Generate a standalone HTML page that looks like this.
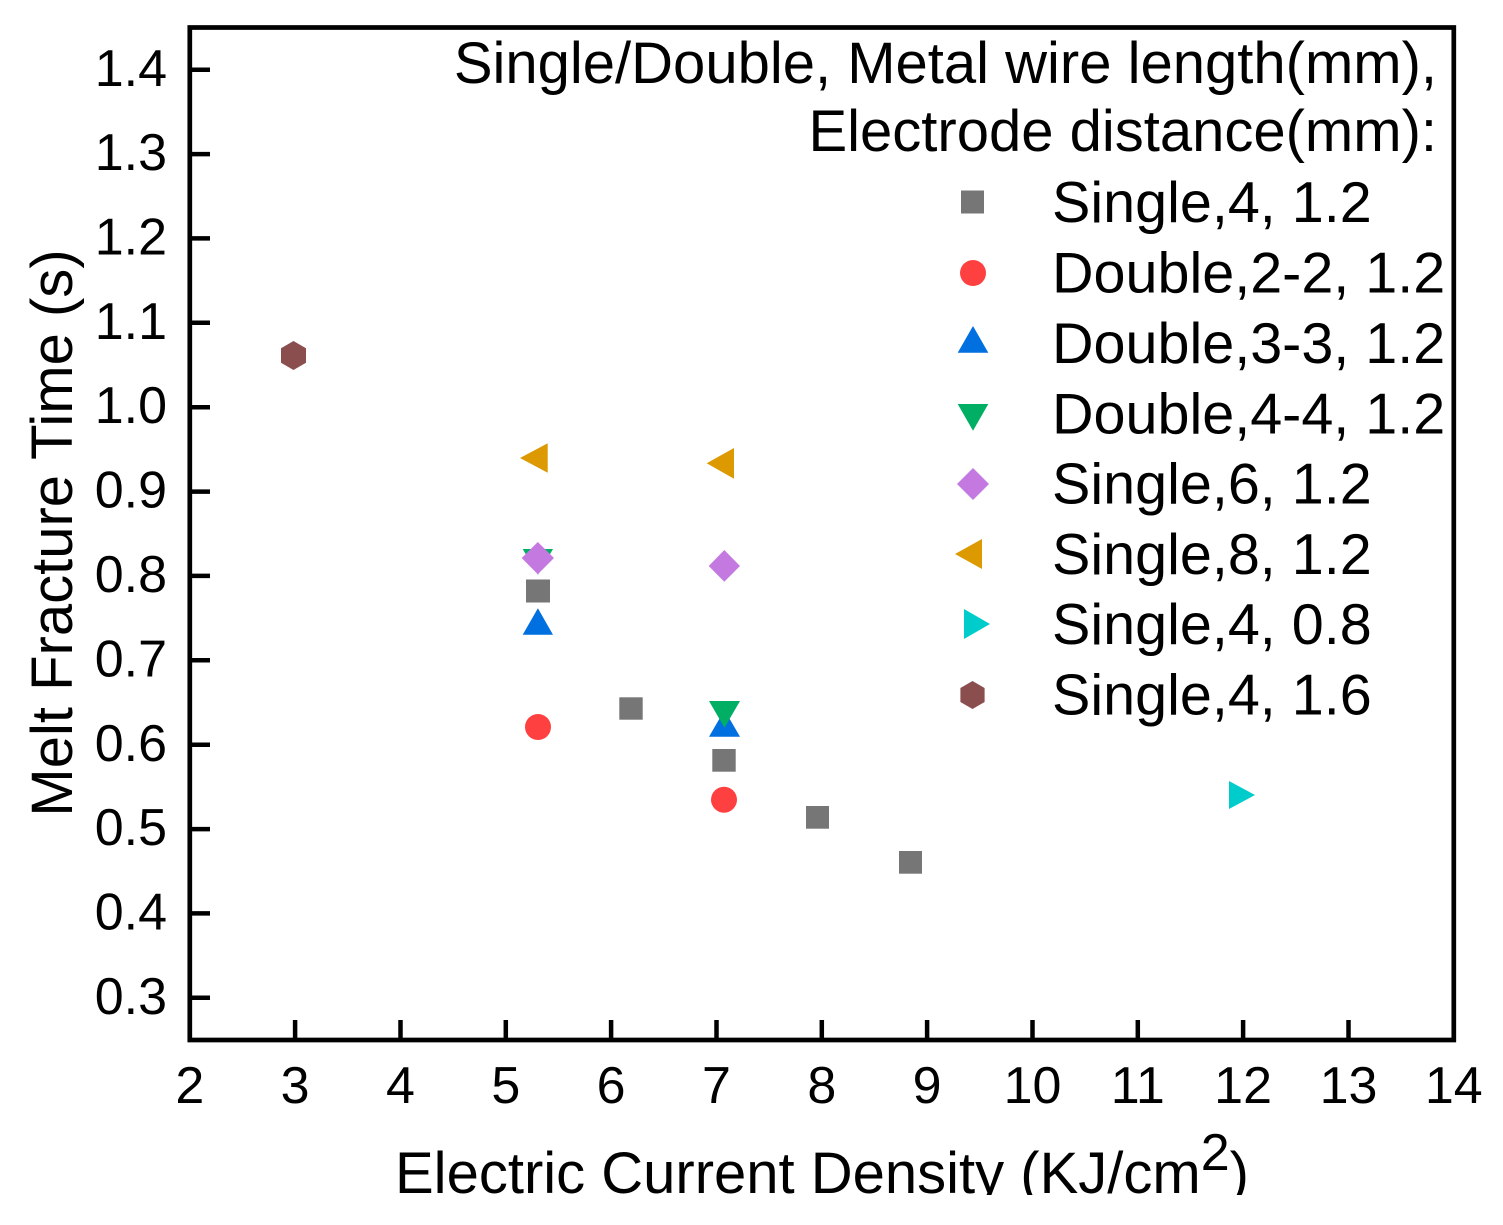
<!DOCTYPE html>
<html>
<head>
<meta charset="utf-8">
<style>
  html, body { margin: 0; padding: 0; background: #ffffff; }
  svg { display: block; }
  text { font-family: "Liberation Sans", Arial, sans-serif; fill: #000; }
</style>
</head>
<body>
<svg width="1503" height="1225" viewBox="0 0 1503 1225" xmlns="http://www.w3.org/2000/svg">
  <rect x="0" y="0" width="1503" height="1225" fill="#ffffff"/>

  <!-- Frame -->
  <rect x="189.8" y="27.5" width="1264" height="1012.5" fill="none" stroke="#000" stroke-width="4.7"/>

  <!-- Y ticks -->
  <g stroke="#000" stroke-width="4.5">
    <line x1="190" y1="69.7" x2="210" y2="69.7"/>
    <line x1="190" y1="154.1" x2="210" y2="154.1"/>
    <line x1="190" y1="238.4" x2="210" y2="238.4"/>
    <line x1="190" y1="322.8" x2="210" y2="322.8"/>
    <line x1="190" y1="407.2" x2="210" y2="407.2"/>
    <line x1="190" y1="491.6" x2="210" y2="491.6"/>
    <line x1="190" y1="575.9" x2="210" y2="575.9"/>
    <line x1="190" y1="660.3" x2="210" y2="660.3"/>
    <line x1="190" y1="744.7" x2="210" y2="744.7"/>
    <line x1="190" y1="829.1" x2="210" y2="829.1"/>
    <line x1="190" y1="913.4" x2="210" y2="913.4"/>
    <line x1="190" y1="997.8" x2="210" y2="997.8"/>
  </g>
  <!-- X ticks -->
  <g stroke="#000" stroke-width="4.5">
    <line x1="295.1" y1="1040" x2="295.1" y2="1020"/>
    <line x1="400.5" y1="1040" x2="400.5" y2="1020"/>
    <line x1="505.8" y1="1040" x2="505.8" y2="1020"/>
    <line x1="611.1" y1="1040" x2="611.1" y2="1020"/>
    <line x1="716.5" y1="1040" x2="716.5" y2="1020"/>
    <line x1="821.8" y1="1040" x2="821.8" y2="1020"/>
    <line x1="927.1" y1="1040" x2="927.1" y2="1020"/>
    <line x1="1032.5" y1="1040" x2="1032.5" y2="1020"/>
    <line x1="1137.8" y1="1040" x2="1137.8" y2="1020"/>
    <line x1="1243.1" y1="1040" x2="1243.1" y2="1020"/>
    <line x1="1348.5" y1="1040" x2="1348.5" y2="1020"/>
  </g>

  <!-- Y tick labels -->
  <g font-size="52" text-anchor="end">
    <text x="167" y="86">1.4</text>
    <text x="167" y="170">1.3</text>
    <text x="167" y="254.5">1.2</text>
    <text x="167" y="339">1.1</text>
    <text x="167" y="423">1.0</text>
    <text x="167" y="507.5">0.9</text>
    <text x="167" y="592">0.8</text>
    <text x="167" y="676.5">0.7</text>
    <text x="167" y="761">0.6</text>
    <text x="167" y="845">0.5</text>
    <text x="167" y="929.5">0.4</text>
    <text x="167" y="1014">0.3</text>
  </g>

  <!-- X tick labels -->
  <g font-size="52" text-anchor="middle">
    <text x="189.8" y="1103">2</text>
    <text x="295.1" y="1103">3</text>
    <text x="400.5" y="1103">4</text>
    <text x="505.8" y="1103">5</text>
    <text x="611.1" y="1103">6</text>
    <text x="716.5" y="1103">7</text>
    <text x="821.8" y="1103">8</text>
    <text x="927.1" y="1103">9</text>
    <text x="1032.5" y="1103">10</text>
    <text x="1137.8" y="1103">11</text>
    <text x="1243.1" y="1103">12</text>
    <text x="1348.5" y="1103">13</text>
    <text x="1453.8" y="1103">14</text>
  </g>

  <!-- Axis titles -->
  <text x="395" y="1193" font-size="58">Electric Current Density (KJ/cm<tspan font-size="52" dy="-23">2</tspan><tspan dy="23">)</tspan></text>
  <!-- bottom crop as in reference -->
  <rect x="0" y="1195" width="1503" height="30" fill="#ffffff"/>
  <text transform="translate(72,533) rotate(-90)" font-size="58" text-anchor="middle">Melt Fracture Time (s)</text>

  <!-- Legend title -->
  <g font-size="58" text-anchor="end">
    <text x="1437" y="83">Single/Double, Metal wire length(mm),</text>
    <text x="1437" y="151">Electrode distance(mm):</text>
  </g>

  <!-- Legend entries text -->
  <g font-size="57.5" xml:space="preserve">
    <text x="1052" y="222">Single,4,  1.2</text>
    <text x="1052" y="292.5">Double,2-2, 1.2</text>
    <text x="1052" y="363">Double,3-3, 1.2</text>
    <text x="1052" y="433.5">Double,4-4, 1.2</text>
    <text x="1052" y="503.5">Single,6,  1.2</text>
    <text x="1052" y="574">Single,8,  1.2</text>
    <text x="1052" y="644">Single,4,  0.8</text>
    <text x="1052" y="714.5">Single,4,  1.6</text>
  </g>

  <!-- Legend markers -->
  <rect x="961" y="190.5" width="23" height="23" fill="#767676"/>
  <circle cx="973" cy="273" r="13" fill="#FF4040"/>
  <polygon points="973,326 988.3,352.7 957.7,352.7" fill="#006FE0"/>
  <polygon points="957.7,404 988.3,404 973,430.7" fill="#00AF64"/>
  <polygon points="973,468 989,484 973,500 957,484" fill="#C479E0"/>
  <polygon points="955,554 982,539 982,569" fill="#DD9900"/>
  <polygon points="964,609 990,624 964,639" fill="#00CCCC"/>
  <polygon points="972.5,681 984.6,688 984.6,702 972.5,709 960.4,702 960.4,688" fill="#8B4E4E"/>

  <!-- Data: gray squares -->
  <g fill="#767676">
    <rect x="526" y="579.5" width="24" height="23"/>
    <rect x="619.3" y="697.3" width="23.4" height="22.4"/>
    <rect x="712.3" y="749" width="23.4" height="22.7"/>
    <rect x="806" y="806" width="23" height="22.7"/>
    <rect x="899" y="851" width="23" height="22.7"/>
  </g>
  <!-- red circles -->
  <g fill="#FF4040">
    <circle cx="538" cy="727" r="13"/>
    <circle cx="724" cy="799.7" r="13"/>
  </g>
  <!-- blue up triangles -->
  <g fill="#006FE0">
    <polygon points="537.9,608.3 553,634.7 522.7,634.7"/>
    <polygon points="724.5,710 740,736.7 709,736.7"/>
  </g>
  <!-- green down triangles -->
  <g fill="#00AF64">
    <polygon points="522.7,549 553,549 537.9,574.7"/>
    <polygon points="709,701 740,701 724.5,727.7"/>
  </g>
  <!-- purple diamonds -->
  <g fill="#C479E0">
    <polygon points="537.8,542 554,558 537.8,574.3 521.7,558"/>
    <polygon points="724.3,550 740,566 724.3,581.7 708.7,566"/>
  </g>
  <!-- orange left triangles -->
  <g fill="#DD9900">
    <polygon points="520,458 547.7,443.3 547.7,472.7"/>
    <polygon points="706.7,463.3 734,448 734,478.7"/>
  </g>
  <!-- cyan right triangle -->
  <polygon points="1229,781 1255,795 1229,809" fill="#00CCCC"/>
  <!-- brown hexagon -->
  <polygon points="293.5,341 306,348.2 306,362.8 293.5,370 281,362.8 281,348.2" fill="#8B4E4E"/>
</svg>
</body>
</html>
